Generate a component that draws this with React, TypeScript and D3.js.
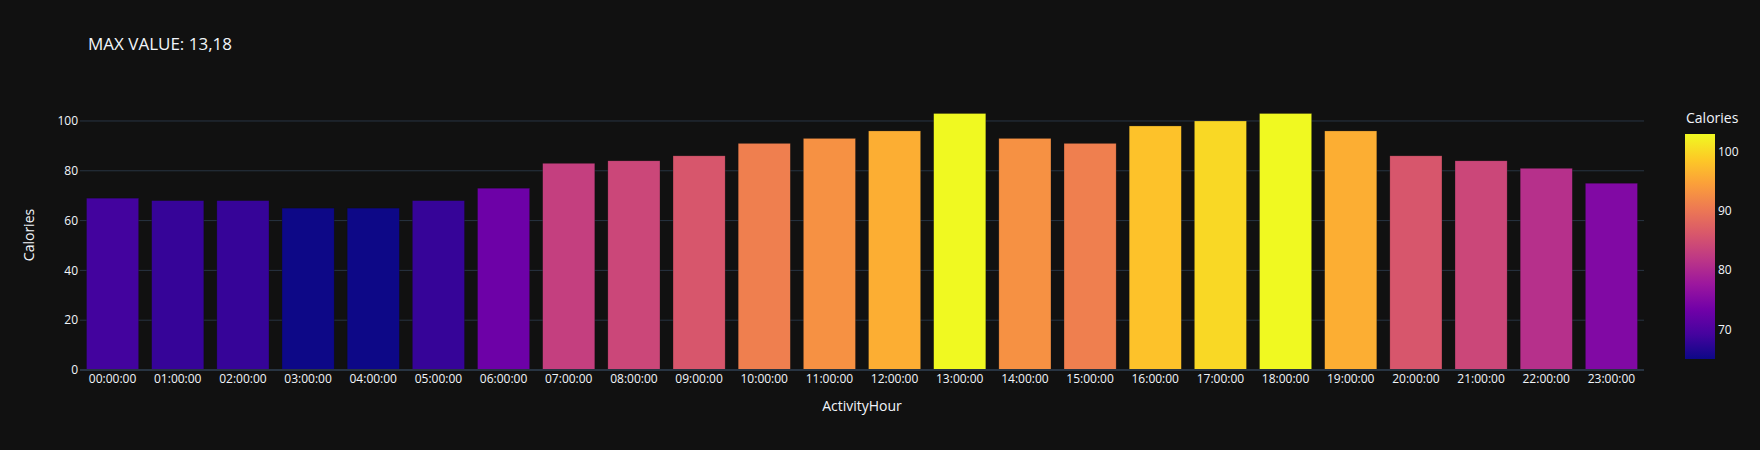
import React, { useEffect, useRef } from 'react';
import { select, scaleBand, scaleLinear, max, min, interpolateRgb } from 'd3';

const hours = [
    '00:00:00', '01:00:00', '02:00:00', '03:00:00', '04:00:00', '05:00:00',
    '06:00:00', '07:00:00', '08:00:00', '09:00:00', '10:00:00', '11:00:00',
    '12:00:00', '13:00:00', '14:00:00', '15:00:00', '16:00:00', '17:00:00',
    '18:00:00', '19:00:00', '20:00:00', '21:00:00', '22:00:00', '23:00:00',
];
const calories = [69, 68, 68, 65, 65, 68, 73, 83, 84, 86, 91, 93, 96, 103, 93, 91, 98, 100, 103, 96, 86, 84, 81, 75];
const yTicks = [0, 20, 40, 60, 80, 100];
const colorTicks = [70, 80, 90, 100];
// plotly "Plasma" stops
const plasma = ['#0d0887', '#46039f', '#7201a8', '#9c179e', '#bd3786', '#d8576b', '#ed7953', '#fb9f3a', '#fdca26', '#f0f921'];

const W = 1760;
const H = 450;
const FONT = '"Open Sans", verdana, arial, sans-serif';
const TEXT = '#f2f5fa';
const GRID = '#283442';

export default function App() {
    const svgRef = useRef<SVGSVGElement | null>(null);

    useEffect(() => {
        const svg = select(svgRef.current);
        svg.selectAll('*').remove();

        const left = 80;
        const right = 1644;
        const top = 100;
        const bottom = 370;

        const cMin = min(calories) as number;
        const cMax = max(calories) as number;

        const x = scaleBand<string>().domain(hours).range([left, right]).paddingInner(0.2).paddingOuter(0.1);
        const y = scaleLinear().domain([0, cMax / 0.95]).range([bottom, top]);

        const colorPos = scaleLinear().domain([0, 1]).range([cMin, cMax]);
        const color = scaleLinear<string>()
            .domain(plasma.map((_, i) => colorPos(i / (plasma.length - 1))))
            .range(plasma)
            .interpolate(interpolateRgb)
            .clamp(true);

        svg.append('rect').attr('width', W).attr('height', H).attr('fill', '#111111');

        // grid
        svg.append('g')
            .selectAll('line')
            .data(yTicks.filter((d) => d !== 0))
            .join('line')
            .attr('x1', left)
            .attr('x2', right)
            .attr('y1', (d) => y(d))
            .attr('y2', (d) => y(d))
            .attr('stroke', GRID)
            .attr('stroke-width', 1);

        // bars
        svg.append('g')
            .selectAll('rect')
            .data(calories)
            .join('rect')
            .attr('x', (_, i) => x(hours[i]) as number)
            .attr('width', x.bandwidth())
            .attr('y', (d) => y(d))
            .attr('height', (d) => y(0) - y(d))
            .attr('fill', (d) => color(d))
            .attr('stroke', 'rgb(17,17,17)')
            .attr('stroke-opacity', 0.5)
            .attr('stroke-width', 0.5);

        // zero line
        svg.append('line')
            .attr('x1', left)
            .attr('x2', right)
            .attr('y1', y(0))
            .attr('y2', y(0))
            .attr('stroke', GRID)
            .attr('stroke-width', 2);

        // y ticks
        svg.append('g')
            .selectAll('text')
            .data(yTicks)
            .join('text')
            .attr('x', left - 2)
            .attr('y', (d) => y(d) + 4.2)
            .attr('text-anchor', 'end')
            .attr('font-size', 12)
            .attr('fill', TEXT)
            .text((d) => d);

        // x ticks
        svg.append('g')
            .selectAll('text')
            .data(hours)
            .join('text')
            .attr('x', (d) => (x(d) as number) + x.bandwidth() / 2)
            .attr('y', bottom + 13)
            .attr('text-anchor', 'middle')
            .attr('font-size', 12)
            .attr('fill', TEXT)
            .text((d) => d);

        // axis titles
        svg.append('text')
            .attr('x', (left + right) / 2)
            .attr('y', 411)
            .attr('text-anchor', 'middle')
            .attr('font-size', 14)
            .attr('fill', TEXT)
            .text('ActivityHour');

        svg.append('text')
            .attr('transform', `translate(34,${(top + bottom) / 2}) rotate(-90)`)
            .attr('text-anchor', 'middle')
            .attr('font-size', 14)
            .attr('fill', TEXT)
            .text('Calories');

        // title
        svg.append('text')
            .attr('x', 88)
            .attr('y', 50)
            .attr('font-size', 17)
            .attr('fill', TEXT)
            .text('MAX VALUE: 13,18');

        // colorbar
        const cbX = 1685;
        const cbW = 30;
        const cb = scaleLinear().domain([cMin, cMax]).range([359, 134]);
        const defs = svg.append('defs');
        const grad = defs.append('linearGradient')
            .attr('id', 'cbgrad')
            .attr('x1', 0).attr('x2', 0).attr('y1', 1).attr('y2', 0);
        grad.selectAll('stop')
            .data(plasma)
            .join('stop')
            .attr('offset', (_, i) => i / (plasma.length - 1))
            .attr('stop-color', (d) => d);

        svg.append('rect')
            .attr('x', cbX)
            .attr('y', cb(cMax))
            .attr('width', cbW)
            .attr('height', cb(cMin) - cb(cMax))
            .attr('fill', 'url(#cbgrad)');

        svg.append('g')
            .selectAll('text')
            .data(colorTicks)
            .join('text')
            .attr('x', cbX + cbW + 3)
            .attr('y', (d) => cb(d) + 4.2)
            .attr('font-size', 12)
            .attr('fill', TEXT)
            .text((d) => d);

        svg.append('text')
            .attr('x', 1686)
            .attr('y', 122.7)
            .attr('font-size', 14)
            .attr('fill', TEXT)
            .text('Calories');
    }, []);

    return (
        <svg
            ref={svgRef}
            width={W}
            height={H}
            style={{ display: 'block', fontFamily: FONT, position: 'absolute', left: 0, top: 0 }}
        ></svg>
    );
}
